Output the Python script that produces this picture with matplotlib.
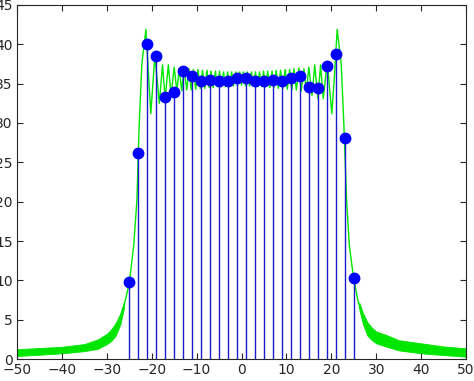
import numpy as np
import matplotlib
matplotlib.use('Agg')
import matplotlib.pyplot as plt

# DFT samples (stems)
k = [-25, -23, -21, -19, -17, -15, -13, -11, -9, -7, -5, -3, -1,
     1, 3, 5, 7, 9, 11, 13, 15, 17, 19, 21, 23, 25]
mag = [9.8, 26.2, 40.1, 38.5, 33.3, 34.0, 36.6, 36.0, 35.3, 35.5, 35.3, 35.3, 35.7,
       35.7, 35.3, 35.4, 35.5, 35.4, 35.7, 36.0, 34.6, 34.4, 37.3, 38.8, 28.1, 10.3]

# dense spectrum (green), main part
green_x = [-28.0, -27.0, -26.0, -25.0, -24.0, -23.3, -22.8, -22.2, -21.3, -20.7, -20.2,
           -19.3, -18.3, -17.6, -17.0, -16.3, -15.7, -15.0, -14.4, -13.9, -13.3, -12.8,
           -12.2, -11.7, -11.2, -10.7, -10.2, -9.7, -9.2, -8.7, -8.2, -7.7, -7.2, -6.8,
           -6.3, -5.8, -5.4, -4.9, -4.5, -4.0, -3.6, -3.1, -2.7, -2.2, -1.8, -1.3, -0.9,
           -0.4, 0.0,
           0.4, 0.9, 1.3, 1.8, 2.2, 2.7, 3.1, 3.6, 4.0, 4.5, 4.9, 5.4, 5.8, 6.3, 6.8, 7.2,
           7.7, 8.2, 8.7, 9.2, 9.7, 10.2, 10.7, 11.2, 11.7, 12.2, 12.8, 13.3, 13.9, 14.4,
           15.0, 15.7, 16.3, 17.0, 17.6, 18.2, 19.1, 20.1, 20.7, 21.3, 22.2, 22.8, 23.4,
           24.0, 24.9, 26.0, 27.1, 28.0]
green_y = [3.8, 5.2, 7.2, 9.6, 14.5, 20.2, 29.7, 37.5, 41.9, 36.0, 31.2,
           38.6, 32.5, 37.4, 33.1, 37.4, 33.5, 37.1, 34.0, 36.9, 34.1, 37.0,
           34.2, 36.9, 34.2, 36.8, 34.3, 36.8, 34.4, 36.7, 34.4, 36.7, 34.5, 36.6,
           34.5, 36.6, 34.6, 36.6, 34.6, 36.5, 34.6, 36.5, 34.7, 36.5, 34.7, 36.5, 34.7,
           36.5, 34.8,
           36.5, 34.7, 36.5, 34.7, 36.5, 34.7, 36.5, 34.6, 36.5, 34.6, 36.6, 34.6, 36.6,
           34.5, 36.6, 34.5, 36.7, 34.4, 36.7, 34.4, 36.8, 34.3, 36.8, 34.2, 36.9, 34.2,
           37.0, 34.1, 36.9, 34.0, 37.1, 33.5, 37.4, 33.1, 37.4, 33.1, 37.8, 31.2, 36.0,
           41.9, 37.5, 29.7, 20.2, 14.5, 10.5, 7.2, 5.2, 3.9]

# ripple band in the tails (upper / lower edges)
tail_left_x = [-50, -45, -40, -35, -32, -30, -29, -28.0, -27.0, -26.2]
tail_left_hi = [1.25, 1.4, 1.56, 1.9, 2.5, 3.2, 3.8, 4.6, 5.8, 7.2]
tail_left_lo = [0.38, 0.55, 0.72, 1.0, 1.3, 1.9, 2.3, 3.0, 4.4, 6.4]
tail_right_x = [26.2, 27.0, 28.0, 29, 30, 32.3, 35, 40, 45, 50]
tail_right_hi = [7.2, 5.9, 4.7, 4.0, 3.5, 3.05, 2.4, 2.0, 1.6, 1.36]
tail_right_lo = [6.4, 4.5, 3.0, 2.4, 2.0, 1.56, 1.1, 0.72, 0.5, 0.3]

fig = plt.figure(figsize=(4.74, 3.81), dpi=100)
ax = fig.add_axes([0.0359, 0.0577, 0.9473, 0.9292])

green = '#00e600'
ax.fill_between(tail_left_x, tail_left_lo, tail_left_hi, color=green, lw=0.6, zorder=1)
ax.fill_between(tail_right_x, tail_right_lo, tail_right_hi, color=green, lw=0.6, zorder=1)
ax.plot(green_x, green_y, color=green, lw=1.0, zorder=2)

ml, sl, bl = ax.stem(k, mag, basefmt=' ')
plt.setp(sl, color='#1a1ad0', lw=1.0, zorder=3)
plt.setp(ml, color='#0000ff', marker='o', markersize=7.5, zorder=4)

ax.set_xlim(-50, 50)
ax.set_ylim(0, 45)
ax.set_xticks(np.arange(-50, 51, 10))
ax.set_yticks(np.arange(0, 46, 5))
ax.tick_params(direction='in', top=True, right=True, length=4, width=0.8,
               labelsize=10, colors='#262626', pad=3)
for s in ax.spines.values():
    s.set_color('#262626')
    s.set_linewidth(0.8)

fig.savefig('out.png', dpi=100)
